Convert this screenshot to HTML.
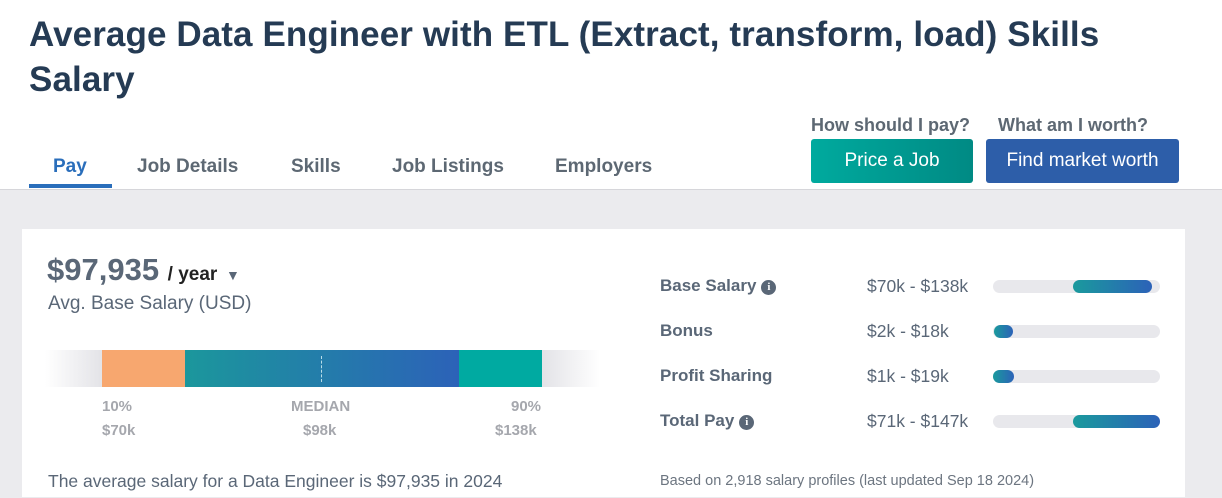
<!DOCTYPE html>
<html><head><style>
body{margin:0;width:1222px;height:497px;overflow:hidden;background:#fff;font-family:"Liberation Sans",Arial,sans-serif;position:relative}
.a{position:absolute;white-space:nowrap}
.t{left:29px;font-size:35px;font-weight:bold;color:#253b54;letter-spacing:0.1px}
.tab{top:156px;font-size:19px;font-weight:bold;color:#5d6873}
.q{top:115px;font-size:18px;font-weight:bold;color:#5d6873}
.btn{top:139px;height:44px;border-radius:3px;color:#fff;font-size:19px;line-height:44px;text-align:center}
.lbl{font-size:17px;font-weight:bold;color:#5a6777;left:660px}
.rng{font-size:17.5px;color:#5a6777;left:867px}
.trk{left:993px;width:167px;height:13px;border-radius:7px;background:#e8e8ec}
.fill{position:absolute;top:0;height:13px;border-radius:7px;background:linear-gradient(90deg,#1a9a9d,#2c62b8)}
.pc{font-size:15px;font-weight:bold;color:#a5a7ad}
.info{display:inline-block;width:15px;height:15px;border-radius:50%;background:#5a6777;color:#fff;font-size:11px;line-height:15px;text-align:center;font-family:"Liberation Serif",serif;font-weight:bold;vertical-align:1px;margin-left:5px}
</style></head><body>
<div class="a t" style="top:15px">Average Data Engineer with ETL (Extract, transform, load) Skills</div>
<div class="a t" style="top:60px">Salary</div>
<div class="a tab" style="left:53px;color:#2a6ebb">Pay</div>
<div class="a" style="left:29px;top:184px;width:83px;height:4px;background:#2a6ebb"></div>
<div class="a tab" style="left:137px">Job Details</div>
<div class="a tab" style="left:291px">Skills</div>
<div class="a tab" style="left:392px">Job Listings</div>
<div class="a tab" style="left:555px">Employers</div>
<div class="a q" style="left:811px">How should I pay?</div>
<div class="a q" style="left:998px">What am I worth?</div>
<div class="a btn" style="left:811px;width:162px;background:linear-gradient(90deg,#00aa9e,#008a84)">Price a Job</div>
<div class="a btn" style="left:986px;width:193px;background:#2d5ea9">Find market worth</div>
<div class="a" style="left:0;top:189px;width:1222px;height:308px;background:#ebebee;border-top:1px solid #d6d6da"></div>
<div class="a" style="left:22px;top:229px;width:1163px;height:268px;background:#fff"></div>
<div class="a" style="left:47px;top:252px;font-size:31px;font-weight:bold;color:#5a6777">$97,935 <span style="font-size:19px;color:#222">/ year</span> <span style="font-size:14px;color:#5a6777">&#9660;</span></div>
<div class="a" style="left:48px;top:293px;font-size:19px;color:#5a6777">Avg. Base Salary (USD)</div>
<div class="a" style="left:45px;top:350px;width:555px;height:37px;background:linear-gradient(90deg,#fff,#e4e4e8 10%,#e4e4e8 90%,#fff)"></div>
<div class="a" style="left:102px;top:350px;width:83px;height:37px;background:#f7a76f"></div>
<div class="a" style="left:185px;top:350px;width:274px;height:37px;background:linear-gradient(90deg,#1b979c,#2c62b8)"></div>
<div class="a" style="left:459px;top:350px;width:83px;height:37px;background:#00aaa1"></div>
<div class="a" style="left:321px;top:356px;height:26px;border-left:1px dashed #b9dde8"></div>
<div class="a pc" style="left:102px;top:398px">10%</div>
<div class="a pc" style="left:102px;top:422px">$70k</div>
<div class="a pc" style="left:291px;top:398px">MEDIAN</div>
<div class="a pc" style="left:303px;top:422px">$98k</div>
<div class="a pc" style="left:511px;top:398px">90%</div>
<div class="a pc" style="left:495px;top:422px">$138k</div>
<div class="a" style="left:48px;top:471px;font-size:17.5px;color:#5a6777">The average salary for a Data Engineer is $97,935 in 2024</div>
<div class="a lbl" style="top:276px">Base Salary<span class="info">i</span></div>
<div class="a rng" style="top:276px">$70k - $138k</div>
<div class="a trk" style="top:280px"><div class="fill" style="left:80px;width:79px"></div></div>
<div class="a lbl" style="top:321px">Bonus</div>
<div class="a rng" style="top:321px">$2k - $18k</div>
<div class="a trk" style="top:325px"><div class="fill" style="left:1px;width:19px"></div></div>
<div class="a lbl" style="top:366px">Profit Sharing</div>
<div class="a rng" style="top:366px">$1k - $19k</div>
<div class="a trk" style="top:370px"><div class="fill" style="left:0;width:21px"></div></div>
<div class="a lbl" style="top:411px">Total Pay<span class="info">i</span></div>
<div class="a rng" style="top:411px">$71k - $147k</div>
<div class="a trk" style="top:415px"><div class="fill" style="left:80px;width:87px"></div></div>
<div class="a" style="left:660px;top:473px;font-size:14.5px;color:#6c7580">Based on 2,918 salary profiles (last updated Sep 18 2024)</div>
</body></html>
